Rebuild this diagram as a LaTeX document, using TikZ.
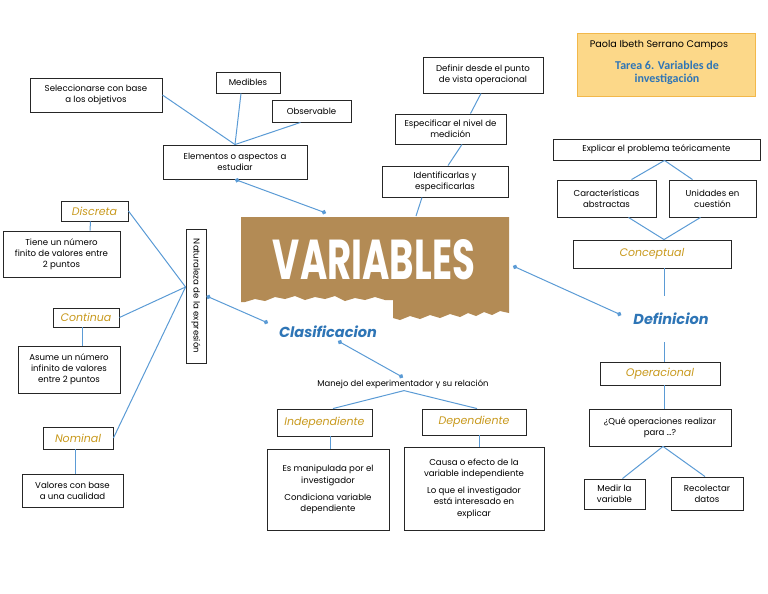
\documentclass[tikz,border=0pt]{standalone}
\usepackage{fontspec}
\setmainfont{Poppins}
\newfontfamily\calibri{Carlito}
\usepackage{graphicx}
\usetikzlibrary{positioning,arrows.meta,calc}
\definecolor{wire}{HTML}{5B9BD5}
\definecolor{gold}{HTML}{C99A1E}
\definecolor{deepblue}{HTML}{2E75B6}
\definecolor{cork}{HTML}{B38B55}
\definecolor{sticky}{HTML}{FCD889}
\definecolor{stickyedge}{HTML}{F2B84B}

\begin{document}
\begin{tikzpicture}[x=1pt, y=-1pt,
    box/.style={draw=black!85, line width=0.9pt, fill=white, align=center, inner sep=1pt,
      font=\fontsize{8.6}{11.2}\selectfont},
    tag/.style={box, text=gold, font=\itshape\fontsize{11}{13}\selectfont},
    script/.style={text=deepblue, inner sep=0pt, font=\bfseries\itshape\fontsize{14.5}{16}\selectfont},
    link/.style={draw=wire, line width=1pt},
    dots/.style={link, {Circle[length=4.5pt]}-{Circle[length=4.5pt]}}]
  \useasboundingbox (0,0) rectangle (768,594);

  % title card
  \draw[stickyedge, fill=sticky, line width=0.8pt] (577,33) rectangle (755,96);
  \node[font=\fontsize{9.6}{11}\selectfont] (author) at (659,45) {Paola Ibeth Serrano Campos};
  \node[deepblue, align=center, font=\calibri\bfseries\fontsize{12}{13.5}\selectfont] (task) at (667,73)
    {Tarea 6. Variables de\\ investigación};

  % central picture
  \fill[cork] (241,217) -- (509,217) -- (509,313) -- (500,311) -- (492,315) -- (484,312) -- (476,316)
    -- (468,313) -- (460,317) -- (450,314) -- (440,318) -- (430,315) -- (420,319) -- (410,316)
    -- (400,320) -- (393,318) -- (393,300) -- (385,300) -- (375,297) -- (365,300) -- (355,298)
    -- (345,301) -- (335,296) -- (325,299) -- (315,297) -- (305,300) -- (295,296) -- (285,299)
    -- (275,297) -- (265,301) -- (255,299) -- (245,302) -- (241,302) -- cycle;
  \node[white, inner sep=0pt] (vars) at (374,260) {\resizebox{202pt}{40pt}{\bfseries VARIABLES}};
  \coordinate (topA) at (326,213);
  \coordinate (topB) at (416,216);
  \coordinate (sideR) at (513,266);

  % upper left: elementos
  \node[box, minimum width=132, minimum height=34] (sel) at (96,95) {Seleccionarse con base\\ a los objetivos};
  \node[box, minimum width=64, minimum height=21] (med) at (248,82.5) {Medibles};
  \node[box, minimum width=79, minimum height=22] (obs) at (311.5,111) {Observable};
  \node[box, minimum width=144, minimum height=34] (elem) at (235,162) {Elementos o aspectos a\\ estudiar};
  \draw[link] (sel.east) -- (elem.north);
  \draw[link] ([xshift=-7pt]med.south) -- (elem.north);
  \draw[link] ([xshift=-11pt]obs.south) -- (elem.north);
  \draw[dots] (elem.south) -- (topA);

  % upper middle: steps
  \node[box, minimum width=120, minimum height=36] (view) at (483,75) {Definir desde el punto\\ de vista operacional};
  \node[box, minimum width=111, minimum height=30] (level) at (450.5,129) {Especificar el nivel de\\ medición};
  \node[box, minimum width=126, minimum height=31] (ident) at (445,181.5) {Identificarlas y\\ especificarlas};
  \draw[link] ([xshift=-2pt]view.south) -- ([xshift=20pt]level.north);
  \draw[link] ([xshift=11.5pt]level.south) -- ([xshift=3pt]ident.north);
  \draw[link] ([xshift=-23pt]ident.south) -- (topB);

  % right: definicion
  \coordinate (axis) at (664,0);
  \node[box, minimum width=207, minimum height=21] (expl) at (656.5,149.5) {Explicar el problema teóricamente};
  \node[box, minimum width=99, minimum height=37] (carac) at (606.5,198.5) {Características\\ abstractas};
  \node[box, minimum width=87, minimum height=37] (unid) at (712.5,198.5) {Unidades en\\ cuestión};
  \node[tag, minimum width=158, minimum height=28] (concep) at (652,254) {Conceptual};
  \node[script, minimum height=46] (defin) at (671,319) {Definicion};
  \node[tag, minimum width=120, minimum height=23] (oper) at (660,373.5) {Operacional};
  \node[box, minimum width=142, minimum height=37] (ques) at (660,427.5) {¿Qué operaciones realizar\\ para \ldots?};
  \node[box, minimum width=61, minimum height=30] (medir) at (614.5,494) {Medir la\\ variable};
  \node[box, minimum width=72, minimum height=33] (recol) at (707,493.5) {Recolectar\\ datos};
  \draw[link] ([xshift=8pt]expl.south) -- ([xshift=25pt]carac.north);
  \draw[link] ([xshift=8pt]expl.south) -- ([xshift=-20pt]unid.north);
  \draw[link] ([xshift=22pt]carac.south) -- ([xshift=12pt]concep.north);
  \draw[link] ([xshift=-12pt]unid.south) -- ([xshift=12pt]concep.north);
  \draw[link] (concep.south -| axis) -- (defin.north -| axis);
  \draw[link] (defin.south -| axis) -- (oper.north -| axis);
  \draw[link] (oper.south -| axis) -- (ques.north -| axis);
  \draw[link] ([xshift=3pt]ques.south) -- ([xshift=8pt]medir.north);
  \draw[link] ([xshift=3pt]ques.south) -- ([xshift=-2pt]recol.north);
  \draw[dots] (sideR) -- ($(defin.west)+(-12,-4)$);

  % left: naturaleza
  \node[box, rotate=-90, minimum width=134, minimum height=20, inner sep=0pt,
    font=\fontsize{8.6}{10}\selectfont] (natur) at (196,296) {Naturaleza de la expresión};
  \coordinate (hub) at ([yshift=9pt]natur.south);
  \node[tag, minimum width=67, minimum height=20] (disc) at (94.5,211) {Discreta};
  \node[box, minimum width=117, minimum height=46] (finite) at (61.5,254) {Tiene un número\\ finito de valores entre\\ 2 puntos};
  \node[tag, minimum width=66, minimum height=19] (cont) at (86,317.5) {Continua};
  \node[box, minimum width=102, minimum height=47] (infin) at (69,369.5) {Asume un número\\ infinito de valores\\ entre 2 puntos};
  \node[tag, minimum width=70, minimum height=22] (nom) at (78,438) {Nominal};
  \node[box, minimum width=101, minimum height=33] (qual) at (72.5,490.5) {Valores con base\\ a una cualidad};
  \draw[link] (disc.east) -- (hub);
  \draw[link] (cont.east) -- (hub);
  \draw[link] (nom.east) -- (hub);
  \draw[link] ([xshift=-4pt]disc.south) -- ([xshift=28.5pt]finite.north);
  \draw[link] ([xshift=-4pt]cont.south) -- ([xshift=13pt]infin.north);
  \draw[link] ([xshift=-3pt]nom.south) -- ([xshift=2.5pt]qual.north);

  % bottom: clasificacion
  \node[script] (clas) at (328,332) {Clasificacion};
  \coordinate (clasin) at (268,323);
  \coordinate (clasout) at (338,341);
  \draw[dots] (natur.north) -- (clasin);
  \node[inner sep=2pt, font=\fontsize{8.4}{10}\selectfont] (manejo) at (403,384) {Manejo del experimentador y su relación};
  \draw[dots] (clasout) -- (manejo.north);
  \node[tag, minimum width=95, minimum height=27] (indep) at (324.5,422.5) {Independiente};
  \node[tag, minimum width=104, minimum height=26] (dep) at (474,422) {Dependiente};
  \node[box, minimum width=122, minimum height=81] (manip) at (328,489.5)
    {Es manipulada por el\\ investigador\\[6pt] Condiciona variable\\ dependiente};
  \node[box, minimum width=140, minimum height=83] (cause) at (474,488.5)
    {Causa o efecto de la\\ variable independiente\\[6pt] Lo que el investigador\\ está interesado en\\ explicar};
  \draw[link] ([xshift=1pt]manejo.south) -- ([xshift=8.5pt]indep.north);
  \draw[link] ([xshift=1pt]manejo.south) -- ([xshift=3pt]dep.north);
  \draw[link] ([xshift=5.5pt]indep.south) -- ([xshift=2pt]manip.north);
  \draw[link] ([xshift=5pt]dep.south) -- ([xshift=5pt]cause.north);
\end{tikzpicture}
\end{document}
